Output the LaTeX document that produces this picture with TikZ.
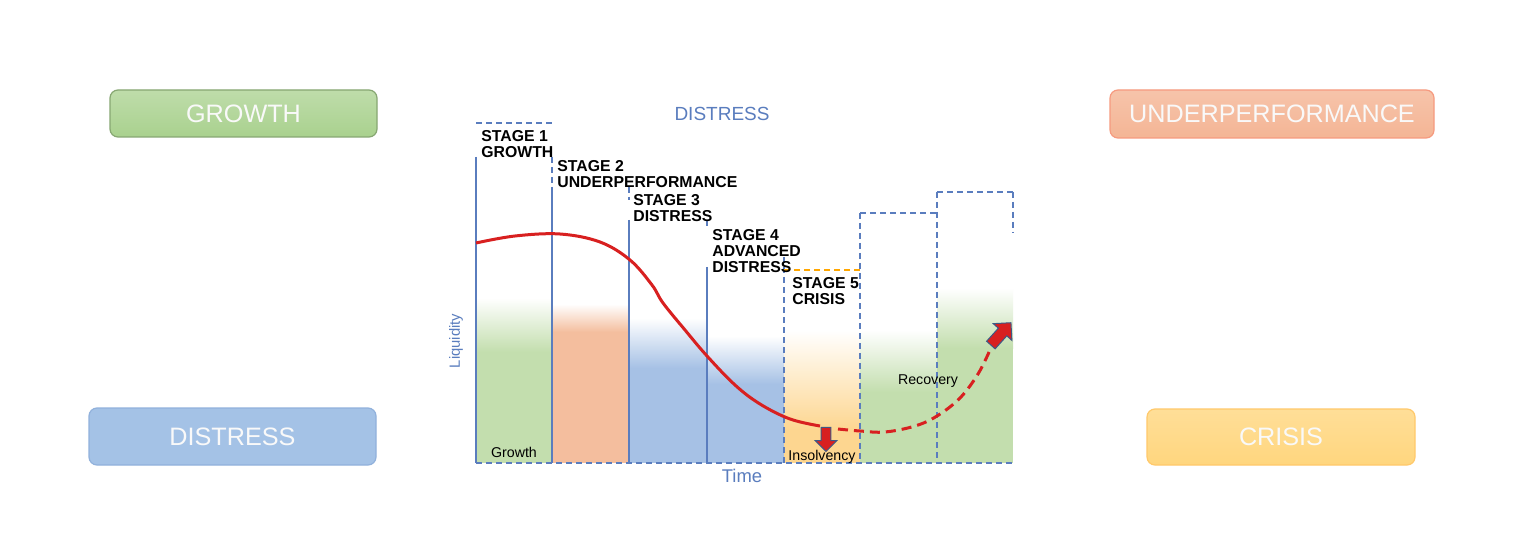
\documentclass[tikz,border=0pt]{standalone}
\usepackage{fontspec}
\setmainfont{Liberation Sans}
\usetikzlibrary{shapes.arrows}
\definecolor{colgrn}{HTML}{C3DEAE}
\definecolor{colorg}{HTML}{F4BE9E}
\definecolor{colblu}{HTML}{A6C1E5}
\definecolor{colylw}{HTML}{FDD690}
\definecolor{boxgrn}{HTML}{A9D18E}
\definecolor{boxorg}{HTML}{F4B595}
\definecolor{boxblu}{HTML}{A4C2E6}
\definecolor{boxylw}{HTML}{FFD67E}
\definecolor{axblu}{HTML}{5A7DBE}
\definecolor{curvered}{HTML}{D82020}
\begin{document}
\begin{tikzpicture}[x=0.5pt, y=-0.5pt,
  phase/.style={rounded corners=4pt, minimum height=24pt, text=white!95!gray,
    font=\fontsize{12.6}{14}\selectfont, line width=0.6pt},
  stagelbl/.style={anchor=north west, inner sep=0pt, align=left,
    font=\fontsize{7.9}{8}\selectfont\bfseries},
  bluetxt/.style={text=axblu, inner sep=0pt},
  smalltxt/.style={inner sep=0pt, font=\fontsize{7.1}{8}\selectfont},
  colline/.style={axblu, line width=0.9pt},
  coltop/.style={axblu, densely dashed, line width=0.6pt},
  blockarrow/.style={single arrow, draw=axblu!70!black, fill=curvered, inner sep=2.2pt,
    line width=0.5pt, single arrow head extend=3pt, minimum height=12pt}]
\useasboundingbox[fill=white] (0,0) rectangle (1536,545);
\node[phase, top color=boxgrn!75!white, bottom color=boxgrn,
  draw=boxgrn!80!black, minimum width=133.5pt, minimum height=23.5pt] (growthbox) at (243.5,113.5) {GROWTH};
\node[phase, top color=boxorg!80!white, bottom color=boxorg,
  draw=boxorg!85!red, minimum width=162pt] (underbox) at (1272,114) {UNDERPERFORMANCE};
\node[phase, fill=boxblu, draw=boxblu!75!axblu,
  minimum width=143.5pt, minimum height=28.5pt] (distressbox) at (232.5,436.5) {DISTRESS};
\node[phase, top color=boxylw!80!white, bottom color=boxylw,
  draw=boxylw!85!orange, minimum width=134pt, minimum height=28pt] (crisisbox) at (1281,437) {CRISIS};
\foreach \xa/\xb/\ya/\yb/\c in {476/552/298/352/colgrn, 552/629/304/332/colorg,
    629/707/318/368/colblu, 707/784/336/384/colblu, 784/860/330/430/colylw,
    860/937/330/392/colgrn, 937/1013/288/348/colgrn}{
  \shade[top color=white, bottom color=\c] (\xa,\ya) rectangle (\xb,\yb);
  \fill[\c] (\xa,\yb-0.5) rectangle (\xb,463);
}
\draw[colline] (476,157) -- (476,463);
\draw[colline] (552,187) -- (552,463);
\draw[colline] (629,220) -- (629,463);
\draw[colline] (707,267) -- (707,463);
\draw[coltop] (552,157) -- (552,187) (629,187) -- (629,200) (707,220) -- (707,228);
\draw[coltop] (784,257) -- (784,463);
\draw[coltop] (860,213) -- (860,463);
\draw[coltop] (937,192) -- (937,463);
\draw[coltop] (1013,192) -- (1013,233);
\draw[coltop] (476,123) -- (552,123);
\draw[coltop, orange!70!yellow] (784,270) -- (860,270);
\draw[coltop] (860,213) -- (937,213) (937,192) -- (1013,192);
\draw[coltop] (476,463) -- (1013,463);
\node[stagelbl] (stageone) at (481,130) {STAGE 1\\GROWTH};
\node[stagelbl] (stagetwo) at (557,160) {STAGE 2\\UNDERPERFORMANCE};
\node[stagelbl] (stagethree) at (633,194) {STAGE 3\\DISTRESS};
\node[stagelbl] (stagefour) at (712,229) {STAGE 4\\ADVANCED\\DISTRESS};
\node[stagelbl] (stagefive) at (792,277) {STAGE 5\\CRISIS};
\node[bluetxt, font=\fontsize{9.5}{11}\selectfont] (title) at (722,114) {DISTRESS};
\node[bluetxt, font=\fontsize{7.4}{9}\selectfont, rotate=90] (ylabel) at (456,341) {Liquidity};
\node[bluetxt, font=\fontsize{9.2}{11}\selectfont] (xlabel) at (742,476) {Time};
\node[smalltxt] (growthlbl) at (514,452) {Growth};
\node[smalltxt] (insolvlbl) at (822,457) {Insolvency};
\node[smalltxt] (recovlbl) at (928,381) {Recovery};
\draw[curvered, line width=1.5pt] plot[smooth, tension=0.6] coordinates {(476,243) (515,236) (560,234)
  (600,242) (630,260) (652,285) (663,303) (685,330) (707,356) (735,385) (760,404) (790,419) (820,426)};
\draw[curvered, line width=1.5pt, dash pattern=on 5pt off 3pt] plot[smooth, tension=0.6] coordinates {(838,429)
  (860,431) (885,432) (915,426) (937,416) (960,398) (978,374) (990,350)};
\node[blockarrow, rotate=-90] (downarrow) at (826,437) {};
\node[blockarrow, rotate=48, inner sep=2.6pt, single arrow head extend=3.4pt,
  minimum height=15pt] (uparrow) at (999,336) {};
\end{tikzpicture}
\end{document}
